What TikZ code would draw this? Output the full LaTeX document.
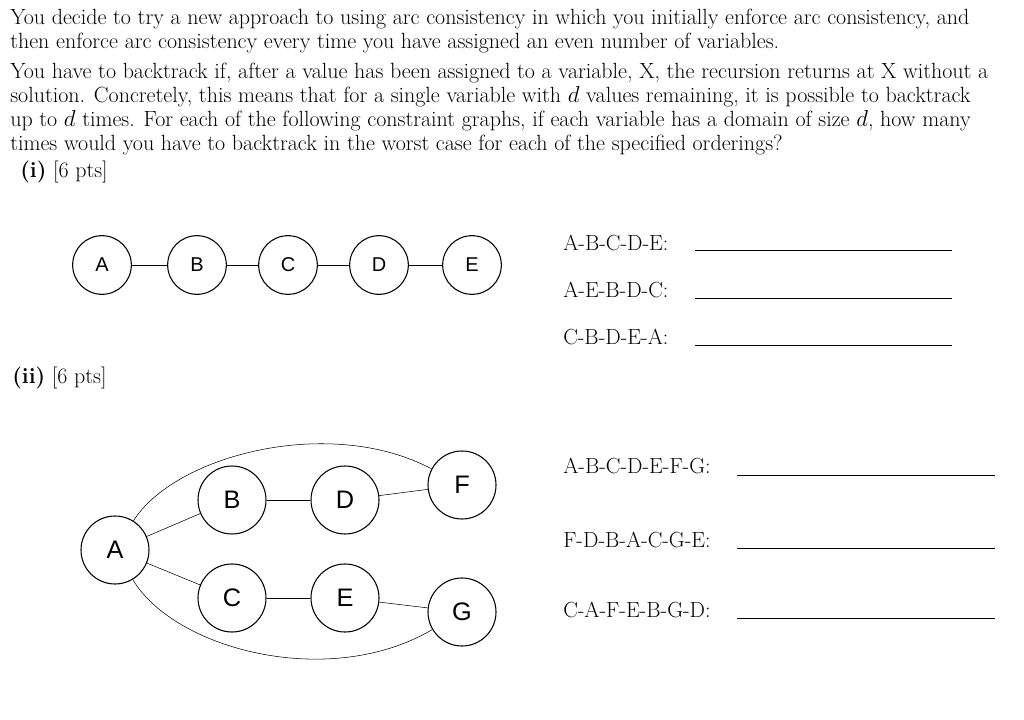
\documentclass[tikz,border=0pt]{standalone}
\usepackage{fontspec}
\newfontfamily\lab{Liberation Sans}
\begin{document}
\begin{tikzpicture}[x=0.75pt,y=-0.75pt,
  txt/.style={anchor=west,inner sep=0pt,font=\fontsize{16.5}{17}\selectfont},
  ci/.style={circle,draw,thick,minimum size=44pt,inner sep=0pt,font=\lab\fontsize{15}{16}\selectfont},
  cii/.style={circle,draw,thick,minimum size=51pt,inner sep=0pt,font=\lab\fontsize{19}{20}\selectfont},
  ans/.style={anchor=west,inner sep=0pt,font=\fontsize{16.4}{17}\selectfont},
  edge/.style={thin}]
\useasboundingbox (0,0) rectangle (1024,720);
\node[txt] (t1) at (10,19) {You decide to try a new approach to using arc consistency in which you initially enforce arc consistency, and};
\node[txt] (t2) at (10,43) {then enforce arc consistency every time you have assigned an even number of variables.};
\node[txt] (t3) at (10,73) {You have to backtrack if, after a value has been assigned to a variable, X, the recursion returns at X without a};
\node[txt] (t4) at (10,97) {solution. Concretely, this means that for a single variable with $d$ values remaining, it is possible to backtrack};
\node[txt] (t5) at (10,121) {up to $d$ times. For each of the following constraint graphs, if each variable has a domain of size $d$, how many};
\node[txt] (t6) at (10,145) {times would you have to backtrack in the worst case for each of the specified orderings?};
\node[txt] (p1) at (20,172) {\textbf{(i)} [6 pts]};
\node[txt] (p2) at (12,378) {\textbf{(ii)} [6 pts]};
% graph i
\node[ci] (A) at (102,265) {A};
\node[ci] (B) at (197,265) {B};
\node[ci] (C) at (288,265) {C};
\node[ci] (D) at (379,265) {D};
\node[ci] (E) at (472,265) {E};
\draw[edge] (A)--(B); \draw[edge] (B)--(C); \draw[edge] (C)--(D); \draw[edge] (D)--(E);
\node[ans] (a1) at (563,243) {A-B-C-D-E:};
\node[ans] (a2) at (563,290) {A-E-B-D-C:};
\node[ans] (a3) at (563,337) {C-B-D-E-A:};
\coordinate (l1a) at (695,250); \coordinate (l1b) at (952,250);
\coordinate (l2a) at (695,298); \coordinate (l2b) at (952,298);
\coordinate (l3a) at (695,345); \coordinate (l3b) at (952,345);
\draw (l1a)--(l1b); \draw (l2a)--(l2b); \draw (l3a)--(l3b);
% graph ii
\node[cii] (A2) at (115,550) {A};
\node[cii] (B2) at (232,500) {B};
\node[cii] (D2) at (345,500) {D};
\node[cii] (F2) at (462,485) {F};
\node[cii] (C2) at (232,598) {C};
\node[cii] (E2) at (345,598) {E};
\node[cii] (G2) at (462,612) {G};
\draw[edge] (A2)--(B2); \draw[edge] (B2)--(D2); \draw[edge] (D2)--(F2);
\draw[edge] (A2)--(C2); \draw[edge] (C2)--(E2); \draw[edge] (E2)--(G2);
\draw[edge] (A2) .. controls (175,455) and (330,415) .. (F2);
\draw[edge] (A2) .. controls (175,650) and (330,690) .. (G2);
\node[ans] (b1) at (563,466) {A-B-C-D-E-F-G:};
\node[ans] (b2) at (563,540) {F-D-B-A-C-G-E:};
\node[ans] (b3) at (563,610) {C-A-F-E-B-G-D:};
\coordinate (m1a) at (737,475); \coordinate (m1b) at (995,475);
\coordinate (m2a) at (737,548); \coordinate (m2b) at (995,548);
\coordinate (m3a) at (737,618); \coordinate (m3b) at (995,618);
\draw (m1a)--(m1b); \draw (m2a)--(m2b); \draw (m3a)--(m3b);
\end{tikzpicture}
\end{document}
